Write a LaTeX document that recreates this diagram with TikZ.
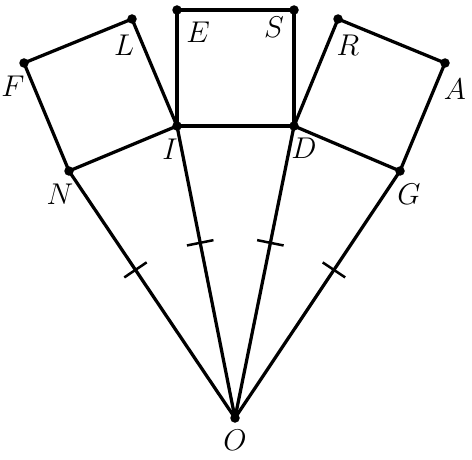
\documentclass[tikz,border=0pt]{standalone}
\usetikzlibrary{decorations.markings,calc}
\begin{document}
\begin{tikzpicture}[x=0.4pt,y=-0.4pt,line width=1.3pt,line join=round,
  dot/.style={circle,fill=black,inner sep=0pt,minimum size=3.8pt},
  lab/.style={inner sep=0pt,font=\fontsize{12.5}{14}\selectfont},
  tick/.style={postaction={decorate},decoration={markings,mark=at position 0.6 with {\draw[line width=1pt] (0,-5.4pt)--(0,5.4pt);}}}]
\useasboundingbox (0,0) rectangle (472,459);
\coordinate (O) at (235,418);
\coordinate (N) at (69,171);
\coordinate (I) at (177,126);
\coordinate (D) at (294,126);
\coordinate (G) at (400,171);
\coordinate (F) at (24,63);
\coordinate (L) at (132,19);
\coordinate (E) at (177,10);
\coordinate (S) at (294,10);
\coordinate (R) at (338,19);
\coordinate (A) at (445,63);
\draw (N)--(I)--(L)--(F)--cycle;
\draw (I)--(D)--(S)--(E)--cycle;
\draw (D)--(G)--(A)--(R)--cycle;
\draw[tick] (O)--(N);
\draw[tick] (O)--(I);
\draw[tick] (O)--(D);
\draw[tick] (O)--(G);
\foreach \p in {O,N,I,D,G,F,L,E,S,R,A} \node[dot] (d\p) at (\p) {};
\node[lab] (lF) at (13,86) {$F$};
\node[lab] (lL) at (124,45) {$L$};
\node[lab] (lE) at (198,32) {$E$};
\node[lab] (lI) at (170,149) {$I$};
\node[lab] (lN) at (60,194) {$N$};
\node[lab] (lS) at (274,27) {$S$};
\node[lab] (lR) at (348,45) {$R$};
\node[lab] (lA) at (455,89) {$A$};
\node[lab] (lD) at (304,148) {$D$};
\node[lab] (lG) at (409,194) {$G$};
\node[lab] (lO) at (235,440) {$O$};
\end{tikzpicture}
\end{document}
